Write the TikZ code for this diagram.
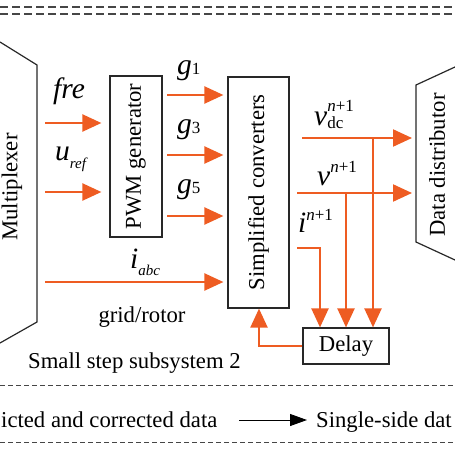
\documentclass[tikz,border=0pt]{standalone}
\usepackage{fontspec}
\setmainfont{Liberation Serif}
\usetikzlibrary{arrows.meta}
\definecolor{org}{RGB}{238,92,34}
\definecolor{dk}{RGB}{40,40,40}
\definecolor{dsh}{RGB}{70,70,70}
\newcommand{\bigsz}{\fontsize{29.5}{31}\selectfont}
\newcommand{\scr}{\fontsize{15}{16}\selectfont}
\newcommand{\scrb}{\fontsize{17}{18}\selectfont}
\begin{document}
\begin{tikzpicture}[x=1pt,y=-1pt,
  box/.style={draw=dk, line width=1.2pt, inner sep=0pt},
  edgeline/.style={draw=dk, line width=1.2pt},
  sig/.style={draw=org, line width=2.2pt, -{Triangle[length=19pt,width=17pt]}, org},
  txt/.style={font=\fontsize{22.7}{24}\selectfont, inner sep=0pt, text=black},
  big/.style={font=\bigsz\itshape, inner sep=0pt, text=black},
  dashtop/.style={draw=dsh, line width=1.4pt, dash pattern=on 8pt off 4pt},
  dashbot/.style={draw=dsh, line width=0.9pt, dash pattern=on 5pt off 3pt},
  legarrow/.style={draw=black, line width=1pt, -{Triangle[length=17pt,width=12pt]}}]
\useasboundingbox (0,0) rectangle (455,455);

% frame dashed lines
\draw[dashtop] (0,7) -- (455,7);
\draw[dashtop] (0,14) -- (455,14);
\draw[dashbot] (0,385) -- (455,385);
\draw[dashbot] (0,442) -- (455,442);

% multiplexer
\coordinate (mxt) at (37,65);
\coordinate (mxb) at (37,322);
\draw[edgeline] (0,42) -- (mxt) -- (mxb) -- (0,343);
\node[txt, rotate=90] (mux) at (12,187) {Multiplexer};

% data distributor
\coordinate (ddt) at (416,85);
\coordinate (ddb) at (416,242);
\draw[edgeline] (455,67) -- (ddt) -- (ddb) -- (455,260);
\node[txt, rotate=90] (dd) at (437,165) {Data distributor};

% blocks
\node[box, minimum width=52pt, minimum height=161pt] (pwm) at (136,156.5) {};
\node[txt, rotate=90] (pwmt) at (pwm.center) {PWM generator};
\node[box, minimum width=61pt, minimum height=231pt] (sc) at (258.5,192.5) {};
\node[txt, rotate=90] (sct) at (sc.center) {Simplified converters};
\node[box, minimum width=86pt, minimum height=36pt] (dl) at (346,346) {};
\node[txt] (dlt) at (dl.center) {Delay};

% inputs to PWM
\coordinate (fs) at (45,123);
\coordinate (us) at (45,192);
\coordinate (is0) at (45,282);
\draw[sig, shorten >=8pt] (fs) -- (fs -| pwm.west);
\draw[sig, shorten >=8pt] (us) -- (us -| pwm.west);
\draw[sig, shorten >=4pt] (is0) -- (is0 -| sc.west);

% gate signals
\coordinate (g1s) at (167,95);
\coordinate (g3s) at (167,155);
\coordinate (g5s) at (167,216);
\draw[sig, shorten >=4pt] (g1s) -- (g1s -| sc.west);
\draw[sig, shorten >=4pt] (g3s) -- (g3s -| sc.west);
\draw[sig, shorten >=4pt] (g5s) -- (g5s -| sc.west);

% outputs
\coordinate (vdcs) at (302,138);
\coordinate (vs) at (297,193);
\coordinate (iis) at (297,248);
\draw[sig, shorten >=4pt] (vdcs) -- (vdcs -| ddt);
\draw[sig, shorten >=4pt] (vs) -- (vs -| ddt);
\coordinate (j1) at (373,138);
\coordinate (j2) at (346,193);
\coordinate (ic) at (320,248);
\draw[sig] (j1) -- (j1 |- dl.north);
\draw[sig] (j2) -- (j2 |- dl.north);
\draw[sig] (iis) -- (ic) -- (ic |- dl.north);

% feedback
\coordinate (fb) at (259,346);
\draw[sig] (dl.west) -- (fb) -- (fb |- sc.south);

% labels
\node[big, anchor=base west] (lfre) at (53,98) {fre};
\node[big, anchor=base west] (lu) at (55,160) {u\raisebox{-8pt}{\scr ref}};
\node[big, anchor=base west] (lg1) at (177,74) {g{\upshape\scrb 1}};
\node[big, anchor=base west] (lg3) at (177,133) {g{\upshape\scrb 3}};
\node[big, anchor=base west] (lg5) at (177,193) {g{\upshape\scrb 5}};
\node[big, anchor=base west] (lia) at (130,268) {i\raisebox{-7pt}{\scr abc}};
\node[big, anchor=base west] (lvdc) at (314,125) {v\makebox[0pt][l]{\raisebox{14pt}{\scrb n\upshape +1}}\raisebox{-3pt}{\upshape\scrb dc}};
\node[big, anchor=base west] (lv) at (317,185) {v\raisebox{13pt}{\scrb n\upshape +1}};
\node[big, anchor=base west] (li) at (298,232) {i\raisebox{12pt}{\scrb n\upshape +1}};

\node[txt] (grid) at (142,317) {grid/rotor};
\node[txt, anchor=base west] (sss) at (28,368) {Small step subsystem 2};

% legend
\node[txt, anchor=base west] (leg1) at (1,427) {icted and corrected data};
\coordinate (la) at (239,420);
\node[txt, anchor=base west] (leg2) at (316,427) {Single-side dat};
\draw[legarrow, shorten >=9pt] (la) -- (leg2.west |- la);
\end{tikzpicture}
\end{document}
